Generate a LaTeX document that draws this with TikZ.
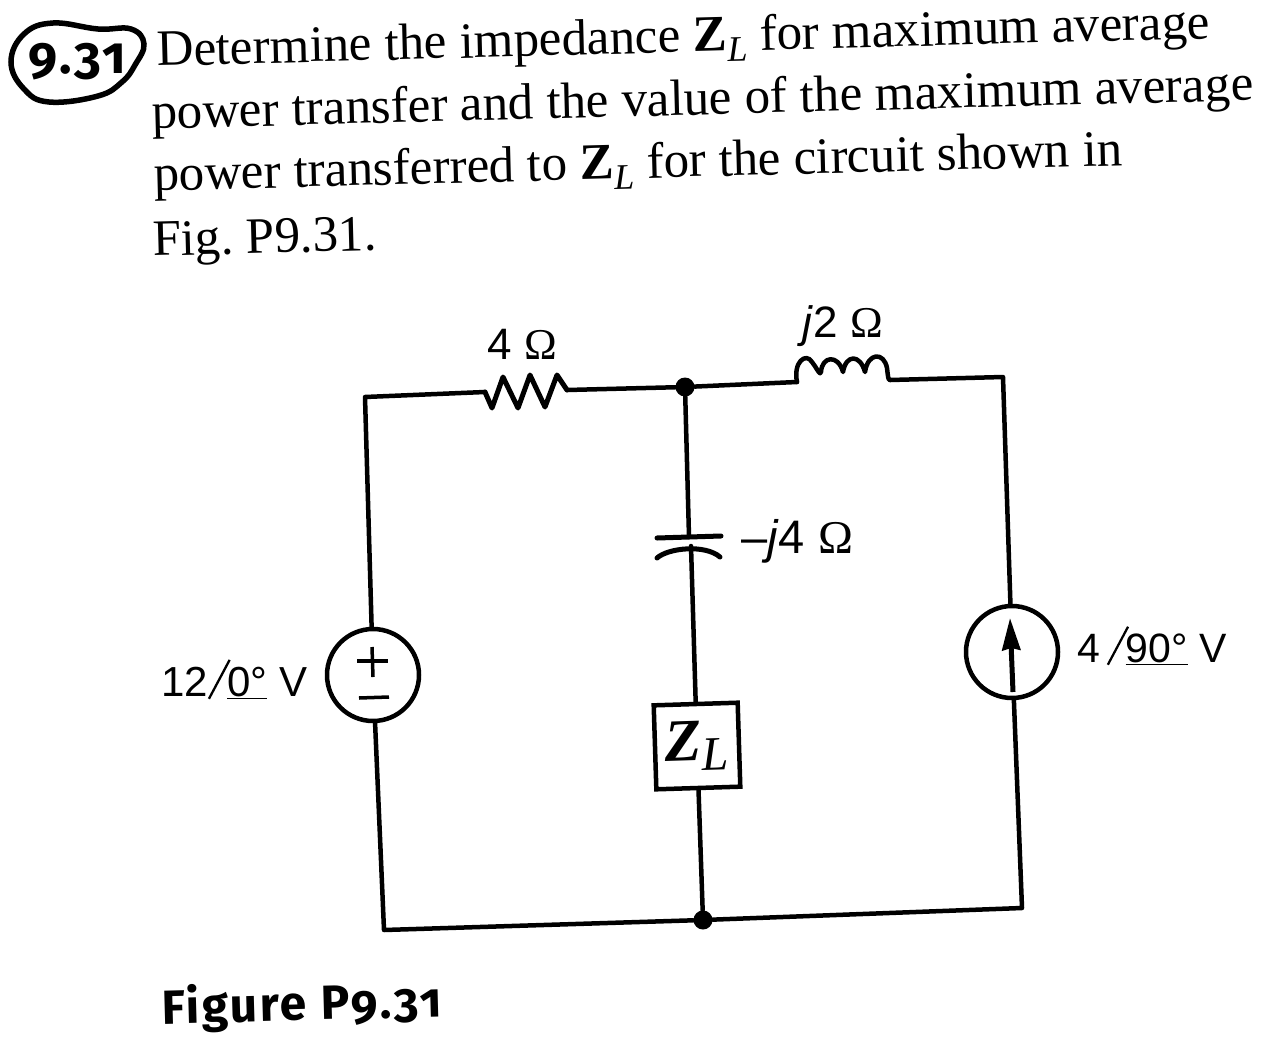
\documentclass[tikz,border=0pt]{standalone}
\usepackage{fontspec}
\setmainfont{Liberation Serif}
\newfontfamily\lblfont{Liberation Sans}
\newfontfamily\figfont[Numbers=OldStyle,LetterSpace=5]{Fira Sans}
\usetikzlibrary{arrows.meta}
\frenchspacing
\newcommand{\phasor}[1]{\leavevmode\rlap{\raisebox{-0.08em}{\rotatebox[origin=bl]{62}{\rule{1.05em}{0.055em}}}}\kern0.46em\underline{#1}}
\newcommand{\subL}{\raisebox{-0.2em}{\fontsize{36}{36}\selectfont\itshape L}}
\tikzset{
  wire/.style={line width=4.5pt,black,line cap=round,line join=round},
  dotnode/.style={circle,fill=black,inner sep=0pt,minimum size=19pt},
  srcnode/.style={circle,draw=black,line width=4.5pt,minimum size=92pt,inner sep=0pt},
  loadbox/.style={draw=black,line width=4.5pt,minimum size=84pt,inner sep=0pt,rotate=1.8,fill=white},
  para/.style={anchor=base west,inner sep=0pt,rotate=1.5,font=\fontsize{51}{51}\selectfont},
  cirlabel/.style={inner sep=0pt,font=\lblfont\fontsize{44}{44}\selectfont},
}
\begin{document}
\begin{tikzpicture}[x=1pt,y=-1pt]
\useasboundingbox (0,0) rectangle (1275,1047);
% problem text
\node[para] (l1) at (157,66) {Determine the impedance \textbf{Z}\subL{} for maximum average};
\node[para] (l2) at (152,129) {power transfer and the value of the maximum average};
\node[para] (l3) at (154,191) {power transferred to \textbf{Z}\subL{} for the circuit shown in};
\node[para] (l4) at (153,256) {Fig. P9.31.};
% badge
\draw[line width=5.5pt,line cap=round] plot[smooth cycle,tension=0.7] coordinates {(11,62) (24,34) (53,23) (98,29) (131,29) (144,44) (135,65) (122,82) (98,96) (49,102) (24,89)};
\node[inner sep=0pt,font=\figfont\bfseries\fontsize{52}{52}\selectfont] (badge) at (77,62) {9.31};
\node[anchor=base west,inner sep=0pt,rotate=1.5,font=\figfont\bfseries\fontsize{48}{48}\selectfont] (figlabel) at (162,1024) {Figure P9.31};
% corners and component ends
\coordinate (tl) at (365,397);
\coordinate (tr) at (1003,377);
\coordinate (br) at (1022,908);
\coordinate (bl) at (384,930);
\node[dotnode] (jt) at (685,387) {};
\node[dotnode] (jb) at (703,920) {};
\coordinate (r1) at (485,392);
\coordinate (r2) at (567,390);
\coordinate (i1) at (797,382);
\coordinate (i2) at (890,380);
\coordinate (c1) at (689,537);
\coordinate (c2) at (691,546);
\node[srcnode] (vs) at (373,675) {};
\node[srcnode] (cs) at (1012,652) {};
\node[loadbox] (zl) at (697,746) {\fontsize{60}{60}\selectfont\textbf{\textit{Z}}\raisebox{-0.18em}{\fontsize{48}{48}\selectfont\itshape L}};
% wires
\draw[wire] (vs) -- (tl) -- (r1);
\draw[wire] (r2) -- (jt) -- (i1);
\draw[wire] (i2) -- (tr) -- (cs);
\draw[wire] (cs) -- (br) -- (jb) -- (bl) -- (vs);
\draw[wire] (jt) -- (c1);
\draw[wire] (c2) -- (zl);
\draw[wire] (zl) -- (jb);
% resistor
\draw[wire,line width=5pt] (r1) -- (492,408) -- (503,377) -- (518,408) -- (530,375) -- (545,407) -- (557,375) -- (r2);
% inductor
\draw[wire] (i1) .. controls (793,362) and (806,352) .. (812,362) .. controls (818,370) and (820,376) .. (821,372)
  .. controls (822,356) and (838,354) .. (843,372)
  .. controls (846,354) and (860,354) .. (865,372)
  .. controls (868,352) and (884,352) .. (887,368) .. controls (888,376) and (888,380) .. (i2);
% capacitor
\draw[wire,line width=5pt] (657,538) -- (721,536);
\draw[wire,line width=5pt] (657,558) .. controls (668,548) and (705,544) .. (720,557);
% source symbols
\draw[line width=3.5pt] (357,661) -- (388,661);
\draw[line width=3.5pt] (372,647) -- (373,677);
\draw[line width=3.5pt] (359,698) -- (389,697);
\draw[line width=5pt,-{Stealth[length=32pt,width=18pt,inset=2pt]}] (1013,692) -- (1010,618);
% labels
\node[cirlabel] (lr) at (522,344) {4 {\rmfamily Ω}};
\node[cirlabel] (li) at (843,326) {\textit{j}2 {\rmfamily Ω}};
\node[cirlabel,anchor=west,font=\lblfont\fontsize{47}{47}\selectfont] (lc) at (741,541) {–\textit{j}4 {\rmfamily Ω}};
\node[cirlabel,anchor=base west,font=\lblfont\fontsize{42}{42}\selectfont] (lv) at (161,696) {12\phasor{0°} V};
\node[cirlabel,anchor=base west,font=\lblfont\fontsize{41}{41}\selectfont] (lcs) at (1077,662) {4\,\phasor{90°} V};
\end{tikzpicture}
\end{document}
